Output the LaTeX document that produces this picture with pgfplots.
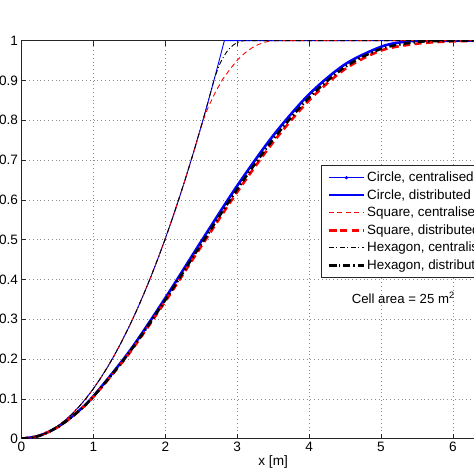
\documentclass[border=0pt]{standalone}
\usepackage{fontspec}
\setmainfont{Liberation Sans}
\usepackage{pgfplots}
\pgfplotsset{compat=1.18}

\definecolor{mblue}{rgb}{0,0,1}
\definecolor{mred}{rgb}{1,0,0}
\definecolor{gridgray}{rgb}{0.55,0.55,0.55}

\begin{document}
\begin{tikzpicture}
\begin{axis}[
  at={(0pt,0pt)}, anchor=south west,
  scale only axis, width=503.3pt, height=398pt,
  xmin=0, xmax=7, ymin=0, ymax=1,
  xtick={0,1,2,3,4,5,6,7},
  ytick={0,0.1,0.2,0.3,0.4,0.5,0.6,0.7,0.8,0.9,1},
  /pgf/number format/assume math mode=true,
  /pgf/number format/fixed,
  tick label style={font=\fontsize{13.6}{15}\selectfont},
  label style={font=\fontsize{13.6}{15}\selectfont},
  xlabel={x [m]},
  xlabel style={yshift=3pt},
  tick align=inside, major tick length=5pt,
  xtick pos=both, ytick pos=both,
  axis line style={black!85, line width=0.7pt},
  tick style={black!85, line width=0.6pt},
  grid=major,
  grid style={gridgray, line width=0.6pt, dash pattern=on 0.8pt off 3pt},
  legend cell align=left,
  legend style={at={(axis cs:4.17,0.687)}, anchor=north west,
    draw=black!85, line width=0.6pt, fill=white,
    font=\fontsize{13.4}{15}\selectfont, inner xsep=6pt, inner ysep=4.5pt,
    row sep=2.3pt},
  legend image code/.code={\draw[#1, mark repeat=2, mark phase=2]
    plot coordinates {(0pt,0pt) (17.5pt,0pt) (35pt,0pt)};},
]

% point-centred distance, circular cell (marker shown in the key only)
\addplot[mblue, line width=0.9pt, mark=*, mark size=1.2pt,
  mark repeat=1000, mark phase=1000] coordinates {
  (0,0) (0.1,0.00126) (0.2,0.00503) (0.3,0.01131) (0.4,0.02011)
  (0.5,0.03142) (0.6,0.04524) (0.7,0.06158) (0.8,0.08042) (0.9,0.10179)
  (1.0,0.12566) (1.1,0.15205) (1.2,0.18096) (1.3,0.21237) (1.4,0.24630)
  (1.5,0.28274) (1.6,0.32170) (1.7,0.36317) (1.8,0.40715) (1.9,0.45365)
  (2.0,0.50265) (2.1,0.55418) (2.2,0.60821) (2.3,0.66476) (2.4,0.72382)
  (2.5,0.78540) (2.6,0.84949) (2.7,0.91609) (2.8,0.98520) (2.8209,1)
  (7,1)};
\addlegendentry{Circle, centralised}

% pairwise distance, circular cell
\addplot[mblue, line width=2.6pt, smooth, tension=0.5] coordinates {
  (0,0) (0.25,0.00756) (0.5,0.02907) (0.75,0.06272) (1,0.10682)
  (1.5,0.21939) (2,0.35333) (2.5,0.49593) (3,0.63542) (3.5,0.76141)
  (4,0.86530) (4.5,0.94075) (5,0.98477) (5.3,0.99668) (5.5,0.99964)
  (5.6419,1) (7,1)};
\addlegendentry{Circle, distributed}

% point-centred distance, square cell
\addplot[mred, line width=0.9pt, dash pattern=on 5pt off 3.5pt] coordinates {
  (0,0) (0.1,0.00126) (0.2,0.00503) (0.3,0.01131) (0.4,0.02011)
  (0.5,0.03142) (0.6,0.04524) (0.7,0.06158) (0.8,0.08042) (0.9,0.10179)
  (1.0,0.12566) (1.1,0.15205) (1.2,0.18096) (1.3,0.21237) (1.4,0.24630)
  (1.5,0.28274) (1.6,0.32170) (1.7,0.36317) (1.8,0.40715) (1.9,0.45365)
  (2.0,0.50265) (2.1,0.55418) (2.2,0.60821) (2.3,0.66476) (2.4,0.72382)
  (2.5,0.78540) (2.55,0.8118) (2.6,0.8341) (2.7,0.8719) (2.8,0.9037)
  (2.9,0.9282) (3.0,0.9509) (3.1,0.9682) (3.2,0.9814) (3.3,0.9909)
  (3.4,0.9970) (3.5,0.9998) (3.5355,1) (7,1)};
\addlegendentry{Square, centralised}

% pairwise distance, square cell
\addplot[mred, line width=2.6pt, dash pattern=on 7pt off 4.5pt, smooth, tension=0.5] coordinates {
  (0,0) (0.25,0.00752) (0.5,0.02880) (0.75,0.06194) (1,0.10513)
  (1.5,0.21479) (2,0.34479) (2.5,0.48332) (3,0.61977) (3.5,0.74476)
  (4,0.85009) (4.5,0.92874) (5,0.97526) (5.5,0.99253) (6,0.99846)
  (6.5,0.99982) (7,1)};
\addlegendentry{Square, distributed}

% point-centred distance, hexagonal cell
\addplot[black, line width=0.9pt, dash pattern=on 5pt off 2.5pt on 1pt off 2.5pt] coordinates {
  (0,0) (0.1,0.00126) (0.2,0.00503) (0.3,0.01131) (0.4,0.02011)
  (0.5,0.03142) (0.6,0.04524) (0.7,0.06158) (0.8,0.08042) (0.9,0.10179)
  (1.0,0.12566) (1.1,0.15205) (1.2,0.18096) (1.3,0.21237) (1.4,0.24630)
  (1.5,0.28274) (1.6,0.32170) (1.7,0.36317) (1.8,0.40715) (1.9,0.45365)
  (2.0,0.50265) (2.1,0.55418) (2.2,0.60821) (2.3,0.66476) (2.4,0.72382)
  (2.5,0.78540) (2.6,0.84949) (2.6864,0.90687) (2.75,0.9385) (2.8,0.9564)
  (2.85,0.9709) (2.9,0.9816) (2.95,0.9897) (3.0,0.9953) (3.05,0.9990)
  (3.102,1) (7,1)};
\addlegendentry{Hexagon, centralised}

% pairwise distance, hexagonal cell
\addplot[black, line width=2.6pt, dash pattern=on 7pt off 3pt on 1.5pt off 3pt, smooth, tension=0.5] coordinates {
  (0,0) (0.25,0.00754) (0.5,0.02892) (0.75,0.06229) (1,0.10589)
  (1.5,0.21686) (2,0.34863) (2.5,0.48899) (3,0.62681) (3.5,0.75225)
  (4,0.85693) (4.5,0.93414) (5,0.97954) (5.5,0.99690) (6,0.99970)
  (6.2,1) (7,1)};
\addlegendentry{Hexagon, distributed}

\node[font=\fontsize{13.2}{15}\selectfont] at (axis cs:5.31,0.354)
  {Cell area = 25 m\textsuperscript{2}};
\end{axis}
\pgfresetboundingbox
\path[use as bounding box] (-21.5pt,-35.3pt) rectangle (452.5pt,438.7pt);
\end{tikzpicture}
\end{document}
